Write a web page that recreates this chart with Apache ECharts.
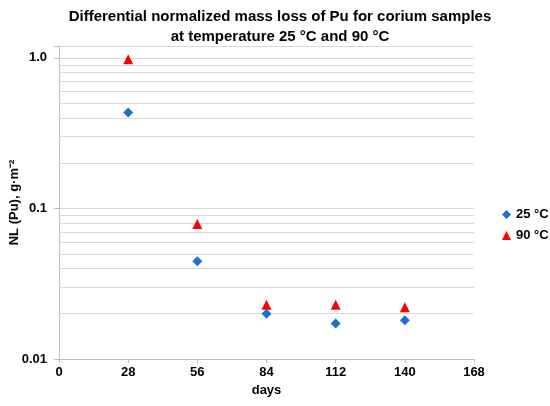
<!DOCTYPE html>
<html><head><meta charset="utf-8">
<script src="https://cdn.jsdelivr.net/npm/echarts@6/dist/echarts.min.js"></script>
<style>html,body{margin:0;padding:0;background:#fff}#c{width:550px;height:406px}</style>
</head><body><div id="c"></div>
<script>
var days = [28, 56, 84, 112, 140];
var s25 = [0.434, 0.0446, 0.0200, 0.0172, 0.0181];
var s90 = [0.98, 0.0788, 0.0229, 0.0229, 0.0221];
var xTicks = [0, 28, 56, 84, 112, 140, 168];
var yMajor = [0.01, 0.1, 1];
var yMinor = [0.02,0.03,0.04,0.05,0.06,0.07,0.08,0.09,0.2,0.3,0.4,0.5,0.6,0.7,0.8,0.9,1.2];
var yMin = 0.01, yMax = 1.2;

var font = 'Liberation Sans, Arial, sans-serif';
var chart = echarts.init(document.getElementById('c'));
chart.setOption({
  animation: false,
  title: {
    text: 'Differential normalized mass loss of Pu for corium samples\nat temperature 25 °C and 90 °C',
    left: 275, top: 2, textAlign: 'center',
    textStyle: {fontFamily: font, fontSize: 15, fontWeight: 'bold', color: '#000', lineHeight: 20}
  },
  legend: {
    orient: 'vertical', left: 497, top: 203, itemGap: 8,
    itemWidth: 9, itemHeight: 9,
    textStyle: {fontFamily: font, fontSize: 13, fontWeight: 'bold', color: '#000'},
    data: [{name: '25 °C', icon: 'diamond'}, {name: '90 °C', icon: 'triangle'}]
  },
  grid: {left: 59, right: 76, top: 46, bottom: 47, containLabel: false, outerBoundsMode: 'none'},
  xAxis: {
    type: 'value', min: xTicks[0], max: xTicks[xTicks.length - 1], interval: 28,
    name: 'days', nameLocation: 'middle', nameGap: 23,
    nameTextStyle: {fontFamily: font, fontSize: 13, fontWeight: 'bold', color: '#000'},
    axisLine: {lineStyle: {color: '#bfbfbf', width: 1}},
    axisTick: {show: true, length: 4, lineStyle: {color: '#bfbfbf'}},
    axisLabel: {fontFamily: font, fontSize: 13, fontWeight: 'bold', color: '#000', margin: 7},
    splitLine: {show: false}
  },
  yAxis: {
    type: 'log', logBase: 10, min: yMin, max: yMax,
    name: 'NL (Pu), g·m⁻²', nameLocation: 'middle', nameGap: 38, nameRotate: 90,
    nameMoveOverlap: false,
    nameTextStyle: {fontFamily: font, fontSize: 13, fontWeight: 'bold', color: '#000'},
    axisLine: {show: true, lineStyle: {color: '#bfbfbf', width: 1}},
    axisTick: {show: true, length: 5, lineStyle: {color: '#bfbfbf'}},
    axisLabel: {
      fontFamily: font, fontSize: 13, fontWeight: 'bold', color: '#000', margin: 12,
      showMaxLabel: true,
      formatter: function (v) {
        for (var i = 0; i < yMajor.length; i++) {
          if (Math.abs(v - yMajor[i]) < yMajor[i] * 1e-6) return yMajor[i] === 1 ? '1.0' : String(yMajor[i]);
        }
        return '';
      }
    },
    splitLine: {show: true, lineStyle: {color: '#d9d9d9', width: 1}}
  },
  series: [
    {
      name: 'minor', type: 'scatter', data: [], z: 1, silent: true,
      markLine: {
        silent: true, symbol: 'none', label: {show: false}, z: 1,
        lineStyle: {color: '#d9d9d9', width: 1, type: 'solid'},
        emphasis: {disabled: true},
        data: yMinor.map(function (v) { return {yAxis: v}; })
      }
    },
    {
      name: '25 °C', type: 'scatter', symbol: 'diamond', symbolSize: 10,
      itemStyle: {color: '#1f6fd0', opacity: 1},
      data: days.map(function (d, i) { return [d, s25[i]]; }),
      z: 3
    },
    {
      name: '90 °C', type: 'scatter', symbol: 'triangle', symbolSize: 10,
      itemStyle: {color: '#ff0000', opacity: 1},
      data: days.map(function (d, i) { return [d, s90[i]]; }),
      z: 4
    }
  ]
});
</script>
</body></html>
